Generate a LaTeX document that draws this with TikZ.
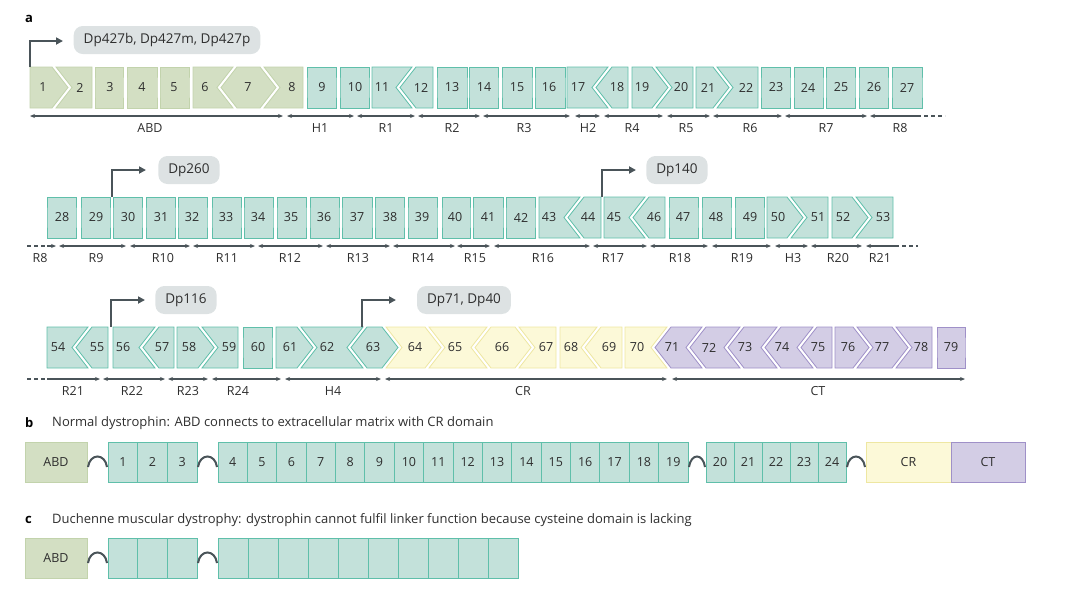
\documentclass[tikz,border=0pt]{standalone}
\usepackage{fontspec}
\setmainfont{Open Sans}
\usetikzlibrary{arrows.meta}
\definecolor{abdF}{HTML}{D3DFC3}\definecolor{abdD}{HTML}{C2D3AC}
\definecolor{tF}{HTML}{C3E1DA}\definecolor{tD}{HTML}{5FBFAA}
\definecolor{yF}{HTML}{FCF9D8}\definecolor{yD}{HTML}{EEE7A2}
\definecolor{pF}{HTML}{D3CDE5}\definecolor{pD}{HTML}{9F90C8}
\definecolor{ln}{HTML}{4A5459}\definecolor{pill}{HTML}{DDE2E3}
\definecolor{tx}{HTML}{2E2E2E}
\tikzset{
 G/.style={fill=abdF,draw=abdD,line width=0.8pt},
 T/.style={fill=tF,draw=tD,line width=0.8pt},
 Y/.style={fill=yF,draw=yD,line width=0.8pt},
 P/.style={fill=pF,draw=pD,line width=0.8pt},
 num/.style={font=\fontsize{12.5}{13}\selectfont,text=tx,inner sep=0pt},
 dom/.style={draw=ln,line width=1.1pt,{Stealth[length=5pt,width=4pt]}-{Stealth[length=5pt,width=4pt]}},
 domr/.style={draw=ln,line width=1.1pt,-{Stealth[length=5pt,width=4pt]}},
 doml/.style={draw=ln,line width=1.1pt,{Stealth[length=5pt,width=4pt]}-},
 dsh/.style={draw=ln,line width=1.1pt,dash pattern=on 4pt off 3pt},
 prom/.style={draw=ln,line width=2.2pt,-{Triangle[length=7pt,width=7pt]}},
 pil/.style={fill=pill,rounded corners=9pt,minimum height=28pt,inner xsep=10pt,font=\fontsize{13.5}{14}\selectfont,text=tx},
 captxt/.style={font=\fontsize{13}{14}\selectfont,text=tx,anchor=west,inner sep=0pt},
 lbl/.style={font=\bfseries\fontsize{13}{14}\selectfont,text=black,anchor=west,inner sep=0pt},
 arcc/.style={draw=ln,line width=2pt},
}
\def\dd{16}
\newcommand\ex[7]{\draw[#7] (#1,\rt) -- (#3,\rt) -- ({#3+(#4)*\dd},\rm) -- (#3,\rb) -- (#1,\rb) -- ({#1+(#2)*\dd},\rm) -- cycle;
 \node[num] (e#5) at (#6,\rm) {#5};}
\newcommand\dm[5]{\draw[dom] (#1,#3) -- (#2,#3); \node[num] (d#4) at (#5,#3+12) {#4};}
\newcommand\bx[5]{\draw[#5] (#1,\bt) rectangle (#2,\bt+40); \node[num] (#4) at ({(#1+#2)/2},\bt+20) {#3};}
\begin{document}
\begin{tikzpicture}[x=1pt,y=-1pt]
\useasboundingbox (0,0) rectangle (1080,592);
\node[lbl] (la) at (25,19) {a};
% ---------- row 1
\def\rt{67}\def\rb{108}\def\rm{87.5}
\ex{30}{0}{52}{1}{1}{43}{G}
\ex{56}{1}{92}{0}{2}{80}{G}
\ex{95}{0}{123}{0}{3}{110}{G}
\ex{127}{0}{157}{0}{4}{142}{G}
\ex{160}{0}{189}{0}{5}{174}{G}
\ex{193}{0}{233}{-1}{6}{205}{G}
\ex{237}{-1}{260}{1}{7}{248}{G}
\ex{264}{1}{303}{0}{8}{292}{G}
\ex{307}{0}{336}{0}{9}{322}{T}
\ex{340}{0}{369}{0}{10}{355}{T}
\ex{372}{0}{412}{-1}{11}{382}{T}
\ex{416}{-1}{433}{0}{12}{421}{T}
\ex{437}{0}{467}{0}{13}{452}{T}
\ex{469}{0}{498}{0}{14}{484}{T}
\ex{502}{0}{532}{0}{15}{517}{T}
\ex{535}{0}{565}{0}{16}{549}{T}
\ex{567}{0}{608}{-1}{17}{578}{T}
\ex{612}{-1}{628}{0}{18}{617}{T}
\ex{632}{0}{652}{1}{19}{642}{T}
\ex{656}{1}{693}{0}{20}{681}{T}
\ex{696}{0}{713}{1}{21}{708}{T}
\ex{717}{1}{758}{0}{22}{746}{T}
\ex{761}{0}{790}{0}{23}{776}{T}
\ex{794}{0}{823}{0}{24}{808}{T}
\ex{826}{0}{855}{0}{25}{841}{T}
\ex{859}{0}{888}{0}{26}{874}{T}
\ex{892}{0}{922}{0}{27}{907}{T}
\dm{30}{283}{116}{ABD}{150}
\dm{287}{354}{116}{H1}{320}
\dm{357}{415}{116}{R1}{386}
\dm{418}{480}{116}{R2}{452}
\dm{483}{570}{116}{R3}{524}
\dm{575}{600}{116}{H2}{588}
\dm{604}{663}{116}{R4}{632}
\dm{667}{710}{116}{R5}{686}
\dm{713}{782}{116}{R6}{750}
\dm{785}{867}{116}{R7}{826}
\draw[doml] (870,116) -- (917,116); \draw[dsh] (917,116) -- (945,116);
\node[num] (dR8a) at (900,128) {R8};
\draw[prom] (30,67) |- (63,41);
\node[pil] (p1) at (167,40) {Dp427b, Dp427m, Dp427p};
% ---------- row 2
\def\rt{197}\def\rb{238}\def\rm{217.5}
\ex{47}{0}{76}{0}{28}{62}{T}
\ex{81}{0}{110}{0}{29}{96}{T}
\ex{113}{0}{142}{0}{30}{128}{T}
\ex{146}{0}{175}{0}{31}{161}{T}
\ex{178}{0}{207}{0}{32}{192}{T}
\ex{212}{0}{241}{0}{33}{226}{T}
\ex{244}{0}{273}{0}{34}{258}{T}
\ex{277}{0}{306}{0}{35}{291}{T}
\ex{310}{0}{339}{0}{36}{324}{T}
\ex{342}{0}{372}{0}{37}{357}{T}
\ex{375}{0}{404}{0}{38}{390}{T}
\ex{408}{0}{437}{0}{39}{422}{T}
\ex{442}{0}{470}{0}{40}{455}{T}
\ex{473}{0}{503}{0}{41}{488}{T}
\ex{506}{0}{535}{0}{42}{521}{T}
\ex{539}{0}{580}{-1}{43}{549}{T}
\ex{584}{-1}{601}{0}{44}{588}{T}
\ex{604}{0}{645}{-1}{45}{614}{T}
\ex{649}{-1}{665}{0}{46}{654}{T}
\ex{669}{0}{698}{0}{47}{683}{T}
\ex{702}{0}{731}{0}{48}{716}{T}
\ex{735}{0}{764}{0}{49}{750}{T}
\ex{767}{0}{787}{1}{50}{778}{T}
\ex{791}{1}{828}{0}{51}{818}{T}
\ex{832}{0}{852}{1}{52}{843}{T}
\ex{856}{1}{893}{0}{53}{883}{T}
\draw[dsh] (27,246) -- (47,246); \draw[domr] (47,246) -- (56,246);
\node[num] (dR8b) at (40,258) {R8};
\dm{59}{126}{246}{R9}{96}
\dm{130}{190}{246}{R10}{163}
\dm{193}{255}{246}{R11}{227}
\dm{258}{323}{246}{R12}{290}
\dm{326}{390}{246}{R13}{358}
\dm{393}{455}{246}{R14}{423}
\dm{457}{490}{246}{R15}{475}
\dm{494}{590}{246}{R16}{543}
\dm{593}{647}{246}{R17}{613}
\dm{650}{708}{246}{R18}{680}
\dm{712}{771}{246}{R19}{742}
\dm{775}{808}{246}{H3}{793}
\dm{811}{862}{246}{R20}{838}
\draw[doml] (866,246) -- (895,246); \draw[dsh] (895,246) -- (918,246);
\node[num] (dR21a) at (880,258) {R21};
\draw[prom] (112,197) |- (146,170);
\node[pil] (p2) at (189,170) {Dp260};
\draw[prom] (602,197) |- (636,170);
\node[pil] (p3) at (677,170) {Dp140};
% ---------- row 3
\def\rt{327}\def\rb{368}\def\rm{347.5}
\ex{47}{0}{88}{-1}{54}{58}{T}
\ex{92}{-1}{108}{0}{55}{97}{T}
\ex{113}{0}{155}{-1}{56}{123}{T}
\ex{159}{-1}{174}{0}{57}{162}{T}
\ex{177}{0}{198}{1}{58}{189}{T}
\ex{202}{1}{238}{0}{59}{229}{T}
\ex{243}{0}{272}{0}{60}{258}{T}
\ex{276}{0}{297}{1}{61}{290}{T}
\ex{301}{1}{363}{-1}{62}{327}{T}
\ex{367}{-1}{382}{1}{63}{373}{T}
\ex{386}{1}{425}{1}{64}{415}{Y}
\ex{429}{1}{487}{-1}{65}{455}{Y}
\ex{491}{-1}{515}{1}{66}{502}{Y}
\ex{519}{1}{556}{0}{67}{546}{Y}
\ex{560}{0}{597}{-1}{68}{571}{Y}
\ex{601}{-1}{622}{0}{69}{609}{Y}
\ex{625}{0}{667}{-1}{70}{637}{Y}
\ex{671}{-1}{702}{-1}{71}{672}{P}
\ex{706}{-1}{740}{-1}{72}{709}{P}
\ex{744}{-1}{777}{-1}{73}{745}{P}
\ex{781}{-1}{813}{-1}{74}{782}{P}
\ex{817}{-1}{832}{0}{75}{818}{P}
\ex{835}{0}{853}{1}{76}{848}{P}
\ex{857}{1}{892}{1}{77}{882}{P}
\ex{896}{1}{932}{0}{78}{921}{P}
\ex{937}{0}{965}{0}{79}{951}{P}
\draw[dsh] (27,379) -- (47,379); \draw[domr] (47,379) -- (100,379);
\node[num] (dR21b) at (73,391) {R21};
\dm{103}{165}{379}{R22}{132}
\dm{168}{208}{379}{R23}{188}
\dm{212}{281}{379}{R24}{238}
\dm{285}{381}{379}{H4}{333}
\dm{385}{667}{379}{CR}{523}
\dm{672}{965}{379}{CT}{818}
\draw[prom] (111,327) |- (145,300);
\node[pil] (p4) at (186,300) {Dp116};
\draw[prom] (362,327) |- (396,300);
\node[pil] (p5) at (464,300) {Dp71, Dp40};
% ---------- b
\node[lbl] (lb) at (25,423) {b};
\node[captxt] (cb) at (52,423) {Normal dystrophin: ABD connects to extracellular matrix with CR domain};
\def\bt{442}
\bx{25}{87}{ABD}{bA}{G}
\foreach \i in {1,2,3}{\pgfmathsetmacro\xa{108+(\i-1)*29.7}\bx{\xa}{\xa+29.7}{\i}{b\i}{T}}
\foreach \i in {4,...,19}{\pgfmathsetmacro\xa{218+(\i-4)*29.375}\bx{\xa}{\xa+29.375}{\i}{b\i}{T}}
\foreach \i in {20,...,24}{\pgfmathsetmacro\xa{706+(\i-20)*28}\bx{\xa}{\xa+28}{\i}{b\i}{T}}
\bx{866}{951}{CR}{bCR}{Y}
\bx{951}{1025}{CT}{bCT}{P}
\foreach \a/\b in {88/107,198/217,689/705,847/865}{
 \draw[arcc] (\a,467) .. controls (\a+2,453) and (\b-2,453) .. (\b,467);}
% ---------- c
\node[lbl] (lc) at (25,520) {c};
\node[captxt] (cc) at (52,520) {Duchenne muscular dystrophy: dystrophin cannot fulfil linker function because cysteine domain is lacking};
\def\bt{538}
\bx{25}{87}{ABD}{cA}{G}
\foreach \i in {1,2,3}{\pgfmathsetmacro\xa{108+(\i-1)*29.7}\bx{\xa}{\xa+29.7}{}{c\i}{T}}
\foreach \i in {4,...,13}{\pgfmathsetmacro\xa{218+(\i-4)*30}\bx{\xa}{\xa+30}{}{c\i}{T}}
\foreach \a/\b in {88/107,198/217}{
 \draw[arcc] (\a,563) .. controls (\a+2,549) and (\b-2,549) .. (\b,563);}
\end{tikzpicture}
\end{document}
